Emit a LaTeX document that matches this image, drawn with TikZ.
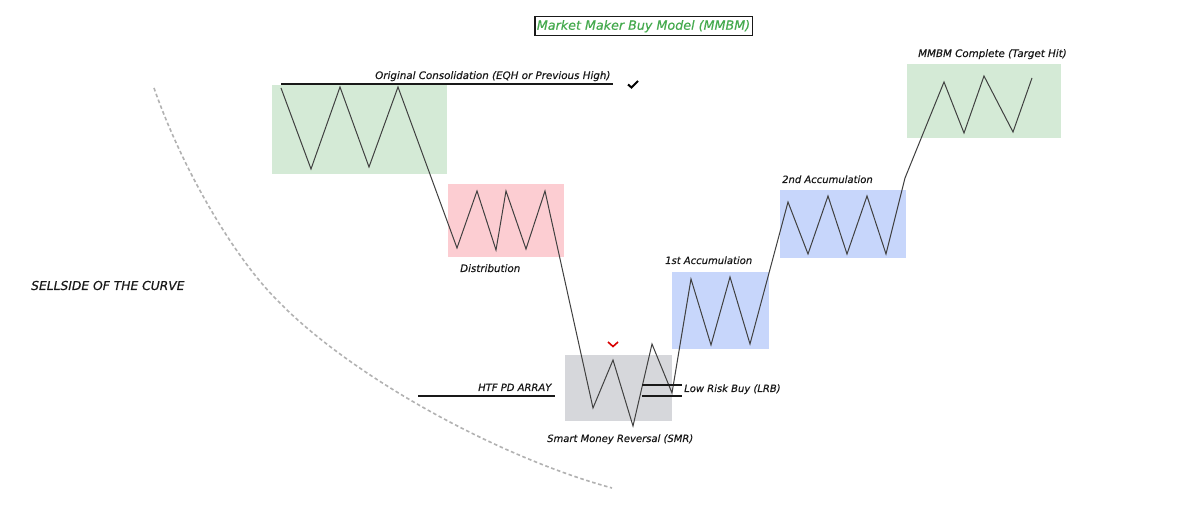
\documentclass[tikz,border=0pt]{standalone}
\usepackage{fontspec}
\setmainfont{DejaVu Sans}
\newfontfamily\lblf{DejaVu Sans}[ItalicFeatures={FakeBold=0.35}]
\definecolor{zgreen}{HTML}{D4EAD6}
\definecolor{zpink}{HTML}{FCCDD2}
\definecolor{zblue}{HTML}{C7D6FB}
\definecolor{zgray}{HTML}{D6D7DB}
\definecolor{ttl}{HTML}{45AA4E}
\newcommand{\lblsize}[1]{\lblf\fontsize{#1}{14pt}\selectfont\itshape}
\tikzset{
 zone/.style={fill=#1,draw=none,inner sep=0pt,anchor=north west},
 lbl/.style={font=\lblsize{10.3pt},inner sep=0pt,anchor=base west,text=black!90},
 lbltight/.style={lbl,font=\lblsize{10pt}},
 price/.style={draw=black!75,line width=1pt,line join=miter},
 level/.style={draw=black!90,line width=1.4pt},
}
\newcommand{\zonebox}[6]{\node[zone=#2,minimum width=#5 pt - #3 pt,minimum height=#6 pt - #4 pt] (#1) at (#3,#4) {};}
\begin{document}
\begin{tikzpicture}[x=1pt,y=-1pt]
\useasboundingbox (0,0) rectangle (1200,510);
\fill[white] (0,0) rectangle (1200,510);
\zonebox{zorig}{zgreen}{272}{85}{447}{174}
\zonebox{zdist}{zpink}{448}{184}{564}{257}
\zonebox{zsmr}{zgray}{565}{355}{672}{421}
\zonebox{zacca}{zblue}{672}{272}{769}{349}
\zonebox{zaccb}{zblue}{780}{190}{906}{258}
\zonebox{zdone}{zgreen}{907}{64}{1061}{138}
% curve
\coordinate (ca) at (154,88);
\coordinate (cm) at (277,300);
\coordinate (cb) at (612,488);
\draw[draw=black!30,line width=1.6pt,dash pattern=on 3.6pt off 2.6pt] (ca) .. controls (182,168) and (233,256) .. (cm) .. controls (348,374) and (495,456) .. (cb);
% price path
\coordinate (p0) at (281,88);
\draw[price] (p0) -- (311,169) -- (340,87) -- (369,167) -- (398,87) -- (457,248) -- (477,191) -- (496,250) -- (506,191) -- (526,249) -- (545,191) -- (593,408) -- (613,360) -- (633,426) -- (652,344) -- (672,393) -- (691,279) -- (711,345) -- (730,277) -- (750,344) -- (788,202) -- (808,254) -- (828,196) -- (847,254) -- (867,196) -- (886,254) -- (905,178) -- (944,82) -- (964,133) -- (984,76) -- (1013,132) -- (1032,78);
% levels
\coordinate (la) at (281,84); \coordinate (lb) at (613,84);
\draw[level] (la) -- (lb);
\coordinate (ha) at (418,396); \coordinate (hb) at (555,396);
\draw[level] (ha) -- (hb);
\coordinate (ra) at (642,385); \coordinate (rb) at (682,385);
\draw[level] (ra) -- (rb);
\coordinate (sa) at (642,396); \coordinate (sb) at (682,396);
\draw[level] (sa) -- (sb);
% marks
\draw[line width=2pt,black] (628,84.5) -- (631.5,87.5) -- (638,81);
\draw[line width=1.6pt,red!85!black] (608,342) -- (613,346.5) -- (618,342);
% title
\node[draw=black!90,line width=1.5pt,inner sep=0pt,minimum width=217.5pt,minimum height=19pt,anchor=north west,
 font=\lblsize{12.7pt},text=ttl] (title) at (534,16) {Market Maker Buy Model (MMBM)};
% labels
\node[lbl] (t1) at (375,79) {Original Consolidation (EQH or Previous High)};
\node[lbl] (t2) at (460,272) {Distribution};
\node[lbltight] (t3) at (665,264) {1st Accumulation};
\node[lbltight] (t4) at (782,183) {2nd Accumulation};
\node[lbl] (t5) at (918,57) {MMBM Complete (Target Hit)};
\node[lbltight] (t6) at (478,391) {HTF PD ARRAY};
\node[lbltight] (t7) at (684,392) {Low Risk Buy (LRB)};
\node[lbltight] (t8) at (547,442) {Smart Money Reversal (SMR)};
\node[lbl,font=\lblsize{12.3pt}] (t9) at (31,290) {SELLSIDE OF THE CURVE};
\end{tikzpicture}
\end{document}
